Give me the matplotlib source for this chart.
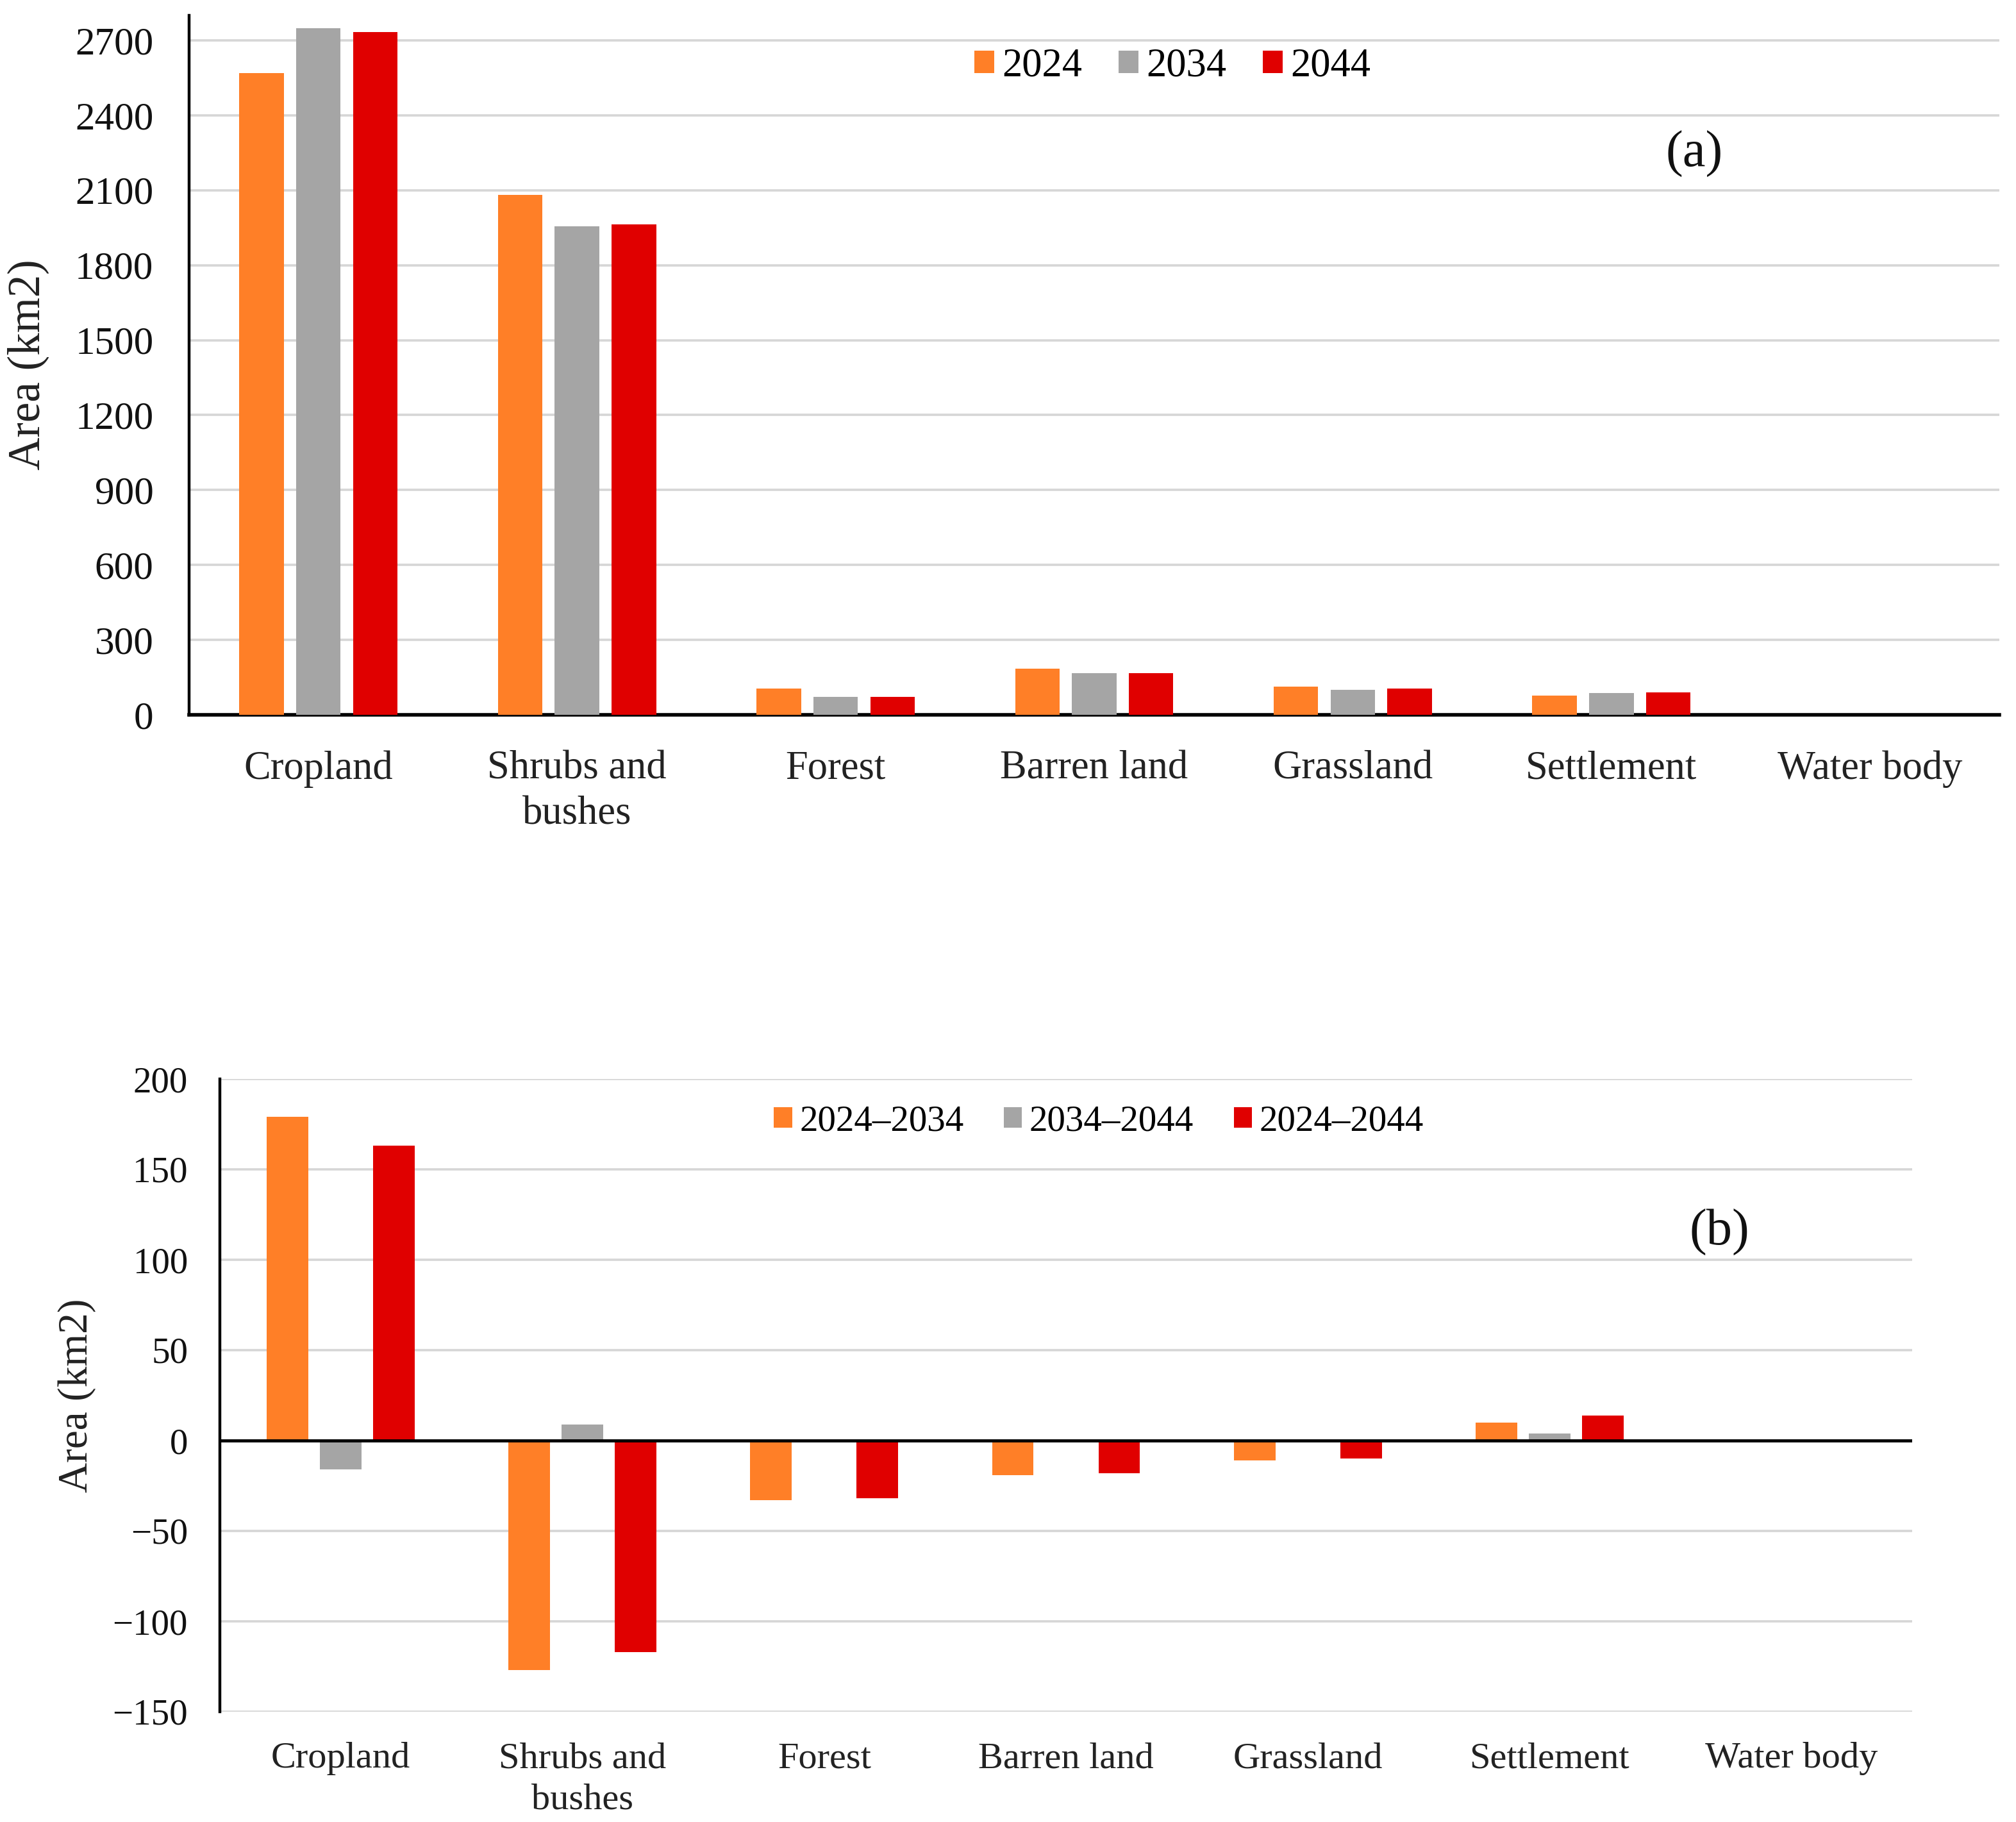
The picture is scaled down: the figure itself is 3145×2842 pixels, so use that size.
import matplotlib
matplotlib.use("Agg")
import matplotlib.pyplot as plt
import numpy as np

# ---- data ----
categories = ["Cropland", "Shrubs and\nbushes", "Forest", "Barren land",
              "Grassland", "Settlement", "Water body"]
area_2024 = [2570, 2081, 105, 185, 113, 78, 0]
area_2034 = [2749, 1955, 72, 166, 100, 88, 0]
area_2044 = [2732, 1964, 72, 167, 104, 91, 0]
labels_a = ["2024", "2034", "2044"]

change_2024_2034 = [179, -127, -33, -19, -11, 10, 0]
change_2034_2044 = [-16, 9, 0, 0, 0, 4, 0]
change_2024_2044 = [163, -117, -32, -18, -10, 14, 0]
labels_b = ["2024\u20132034", "2034\u20132044", "2024\u20132044"]

yticks_a = [0, 300, 600, 900, 1200, 1500, 1800, 2100, 2400, 2700]
yticks_b = [-150, -100, -50, 0, 50, 100, 150, 200]

colors = ["#FF7F27", "#A5A5A5", "#E00000"]

plt.rcParams['font.family'] = ['Liberation Serif', 'DejaVu Serif']

W, H, DPI = 3145, 2842, 100
fig = plt.figure(figsize=(W / DPI, H / DPI), dpi=DPI)

def fx(px):
    return px / W

def fy(py):
    return 1 - py / H

step = 0.22
bw = 0.172
x = np.arange(len(categories))

# ---------- (a) ----------
axA = fig.add_axes([fx(295), fy(1115), fx(3119) - fx(295), fy(24) - fy(1115)])
for j, (vals, lab) in enumerate(zip([area_2024, area_2034, area_2044], labels_a)):
    axA.bar(x + (j - 1) * step, vals, width=bw, color=colors[j], label=lab, zorder=3, linewidth=0)
axA.set_xlim(-0.5, len(categories) - 0.5)
axA.set_ylim(0, 2800)
axA.set_yticks(yticks_a)
axA.set_yticklabels([str(v) for v in yticks_a])
axA.grid(axis='y', color='#D6D6D6', linewidth=2.6, zorder=0)
axA.set_axisbelow(True)
axA.set_xticks(x)
axA.set_xticklabels(categories, linespacing=1.3)
axA.tick_params(axis='x', length=0, pad=40, labelsize=45, labelcolor='#222222')
axA.tick_params(axis='y', length=0, pad=40, labelsize=44, labelcolor='#111111')
for s in ['top', 'right']:
    axA.spines[s].set_visible(False)
axA.spines['left'].set_linewidth(3.2)
axA.spines['bottom'].set_linewidth(4.0)
axA.spines['left'].set_color('black')
axA.spines['bottom'].set_color('black')
axA.legend(loc='center', bbox_to_anchor=(0.5816, 0.9635), bbox_transform=fig.transFigure,
           ncol=3, frameon=False, fontsize=45, handlelength=0.5, handleheight=0.5,
           handletextpad=0.2, columnspacing=0.9, borderpad=0, borderaxespad=0)
fig.text(0.014, 0.800, "Area (km2)", rotation=90, ha='center', va='center', fontsize=51, color='#222222')
fig.text(0.8404, 0.9155, "(a)", ha='center', va='center', fontsize=58, color='#111111')

# ---------- (b) ----------
axB = fig.add_axes([fx(343), fy(2670), fx(2983) - fx(343), fy(1683) - fy(2670)])
for j, (vals, lab) in enumerate(zip([change_2024_2034, change_2034_2044, change_2024_2044], labels_b)):
    axB.bar(x + (j - 1) * step, vals, width=bw, color=colors[j], label=lab, zorder=3, linewidth=0)
axB.set_xlim(-0.5, len(categories) - 0.5)
axB.set_ylim(-150, 200)
axB.set_yticks(yticks_b)
axB.set_yticklabels([str(v).replace('-', '\u2212') for v in yticks_b])
axB.grid(axis='y', color='#D6D6D6', linewidth=2.6, zorder=0)
axB.set_axisbelow(True)
axB.axhline(0, color='black', linewidth=3.5, zorder=4)
axB.set_xticks(x)
axB.set_xticklabels(categories, linespacing=1.3)
axB.tick_params(axis='x', length=0, pad=34, labelsize=42, labelcolor='#222222')
axB.tick_params(axis='y', length=0, pad=36, labelsize=41, labelcolor='#111111')
for s in ['top', 'right', 'bottom']:
    axB.spines[s].set_visible(False)
axB.spines['left'].set_linewidth(3.2)
axB.spines['left'].set_color('black')
axB.legend(loc='center', bbox_to_anchor=(0.545, 0.3845), bbox_transform=fig.transFigure,
           ncol=3, frameon=False, fontsize=41, handlelength=0.5, handleheight=0.5,
           handletextpad=0.2, columnspacing=1.1, borderpad=0, borderaxespad=0)
fig.text(0.0382, 0.234, "Area (km2)", rotation=90, ha='center', va='center', fontsize=47, color='#222222')
fig.text(0.8528, 0.3237, "(b)", ha='center', va='center', fontsize=58, color='#111111')

fig.savefig("out.png", dpi=DPI, facecolor='white')
